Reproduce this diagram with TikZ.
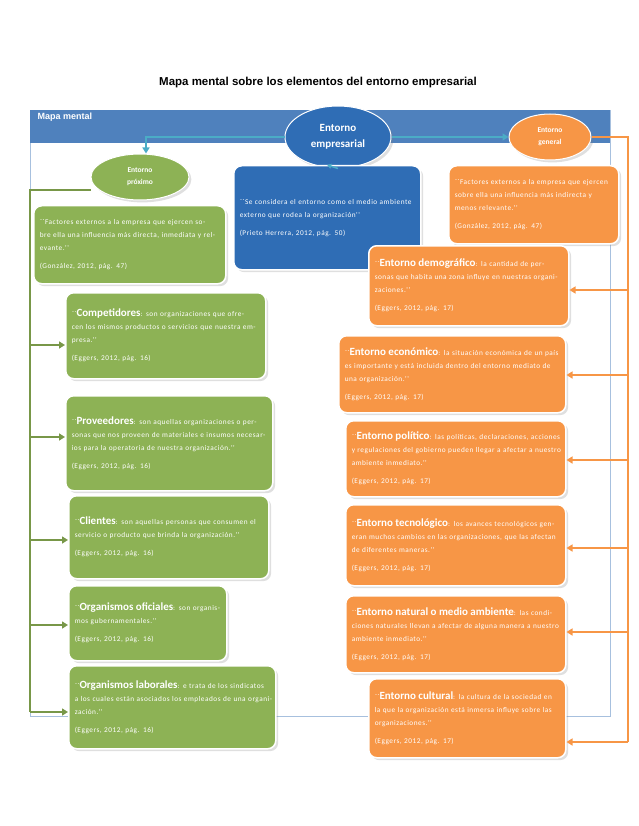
\documentclass[tikz,border=0pt]{standalone}
\usepackage{fontspec}
\setmainfont{Carlito}
\newfontfamily\titlef{Liberation Sans}
\newfontfamily\bodyf{Carlito}[LetterSpace=7]
\newcommand\hdf{\fontsize{11}{11}\selectfont\bfseries\addfontfeature{LetterSpace=0}}
\usetikzlibrary{shapes.geometric,arrows.meta,shadows}
\definecolor{gr}{HTML}{8DB255}
\definecolor{orn}{HTML}{F79646}
\definecolor{bl}{HTML}{2F6DB5}
\definecolor{band}{HTML}{4F81BD}
\definecolor{teal}{HTML}{4BACC6}
\begin{document}
\begin{tikzpicture}[x=1pt,y=-1pt,
  box/.style={rounded corners=8pt,draw=white,line width=1.5pt,drop shadow={opacity=0.25},
    text=white,align=left,anchor=north west,inner sep=6pt,font=\bodyf\fontsize{7.3}{13}\selectfont},
  gbox/.style={box,fill=gr},
  obox/.style={box,fill=orn},
  ell/.style={ellipse,draw=white,line width=1pt,text=white,align=center,drop shadow={opacity=0.25}},
  ga/.style={draw=gr!85!black,line width=2pt,-{Triangle[length=6pt,width=7pt]}},
  oa/.style={draw=orn,line width=2pt,-{Triangle[length=6pt,width=7pt]}},
  ba/.style={draw=teal,line width=2pt,-{Triangle[length=6pt,width=7pt]}}]
\useasboundingbox (0,0) rectangle (638,826);
\node[font=\titlef\bfseries\fontsize{11.5}{12}\selectfont] (title) at (318,83) {Mapa mental sobre los elementos del entorno empresarial};
\draw[draw=band!50,line width=0.5pt] (30,110) rectangle (610,716);
\fill[band] (30,110) rectangle (610,143);
\node[anchor=west,text=white,font=\titlef\bfseries\fontsize{9}{10}\selectfont] (mm) at (34,117) {Mapa mental};
% ellipses
\node[ell,fill=bl,minimum width=106pt,minimum height=62pt,font=\bfseries\fontsize{11}{16}\selectfont] (emp) at (338,137) {Entorno\\empresarial};
\node[ell,fill=orn,minimum width=82pt,minimum height=46pt,font=\bfseries\fontsize{7.5}{12}\selectfont] (gen) at (550,137) {Entorno\\general};
\node[ell,fill=gr,minimum width=98pt,minimum height=46pt,font=\bfseries\fontsize{7.5}{12}\selectfont] (prox) at (140,177) {Entorno\\próximo};
% top boxes
\node[box,fill=bl,text width=175pt,minimum height=104pt] (bdef) at (233,165) {``Se considera el entorno como el medio ambiente externo que rodea la organización''\\[5pt](Prieto Herrera, 2012, pág. 50)\\[30pt]};
\node[obox,text width=158pt,minimum height=78pt] (odef) at (448,165) {``Factores externos a la empresa que ejercen sobre ella una influencia más indirecta y menos relevante.''\\[5pt](González, 2012, pág. 47)};
\node[gbox,text width=180pt,minimum height=78pt] (gdef) at (33,205) {``Factores externos a la empresa que ejercen sobre ella una influencia más directa, inmediata y relevante.''\\[5pt](González, 2012, pág. 47)};
% green
\node[gbox,text width=188pt,minimum height=86pt] (comp) at (65,292) {``{\hdf Competidores}: son organizaciones que ofrecen los mismos productos o servicios que nuestra empresa.''\\[5pt](Eggers, 2012, pág. 16)};
\node[gbox,text width=195pt,minimum height=95pt] (prov) at (65,395) {``{\hdf Proveedores}: son aquellas organizaciones o personas que nos proveen de materiales e insumos necesarios para la operatoria de nuestra organización.''\\[5pt](Eggers, 2012, pág. 16)};
\node[gbox,text width=188pt,minimum height=83pt] (cli) at (68,495) {``{\hdf Clientes}: son aquellas personas que consumen el servicio o producto que brinda la organización.''\\[5pt](Eggers, 2012, pág. 16)};
\node[gbox,text width=146pt,minimum height=75pt] (ofi) at (68,585) {``{\hdf Organismos oficiales}: son organismos gubernamentales.''\\[5pt](Eggers, 2012, pág. 16)};
\node[gbox,text width=195pt,minimum height=83pt] (lab) at (68,665) {``{\hdf Organismos laborales}: e trata de los sindicatos a los cuales están asociados los empleados de una organización.''\\[5pt](Eggers, 2012, pág. 16)};
% orange
\node[obox,text width=188pt,minimum height=80pt] (dem) at (368,245) {``{\hdf Entorno demográfico}: la cantidad de personas que habita una zona influye en nuestras organizaciones.''\\[5pt](Eggers, 2012, pág. 17)};
\node[obox,text width=215pt,minimum height=77pt] (eco) at (338,335) {``{\hdf Entorno económico}: la situación económica de un país es importante y está incluida dentro del entorno mediato de una organización.''\\[5pt](Eggers, 2012, pág. 17)};
\node[obox,text width=208pt,minimum height=76pt] (pol) at (345,420) {``{\hdf Entorno político}: las políticas, declaraciones, acciones y regulaciones del gobierno pueden llegar a afectar a nuestro ambiente inmediato.''\\[5pt](Eggers, 2012, pág. 17)};
\node[obox,text width=208pt,minimum height=81pt] (tec) at (345,504) {``{\hdf Entorno tecnológico}: los avances tecnológicos generan muchos cambios en las organizaciones, que las afectan de diferentes maneras.''\\[5pt](Eggers, 2012, pág. 17)};
\node[obox,text width=208pt,minimum height=77pt] (nat) at (345,595) {``{\hdf Entorno natural o medio ambiente}: las condiciones naturales llevan a afectar de alguna manera a nuestro ambiente inmediato.''\\[5pt](Eggers, 2012, pág. 17)};
\node[obox,text width=185pt,minimum height=79pt] (cul) at (368,678) {``{\hdf Entorno cultural}: la cultura de la sociedad en la que la organización está inmersa influye sobre las organizaciones.''\\[5pt](Eggers, 2012, pág. 17)};
% blue connectors
\draw[ba] (emp.west) -- (146,137) -- (prox.north -| 146,0);
\draw[ba] (emp.east) -- (gen.west);
\draw[draw=teal,line width=1.5pt,-{Triangle[length=4pt,width=5pt]}] (emp.south) -- (bdef.north);
% green connectors
\coordinate (gtop) at (30,190);
\draw[draw=gr!85!black,line width=2pt] (prox.west |- 0,190) -- (gtop) -- (30,712);
\foreach \n/\y in {comp/345,prov/437,cli/540,ofi/625,lab/712}{
  \draw[ga] (30,\y) -- (\n.west |- 0,\y);}
% orange connectors
\draw[draw=orn,line width=2pt] (gen.east) -- (628,137) -- (628,742);
\foreach \n/\y in {dem/290,eco/375,pol/460,tec/548,nat/632,cul/742}{
  \draw[oa] (628,\y) -- (\n.east |- 0,\y);}
\end{tikzpicture}
\end{document}
